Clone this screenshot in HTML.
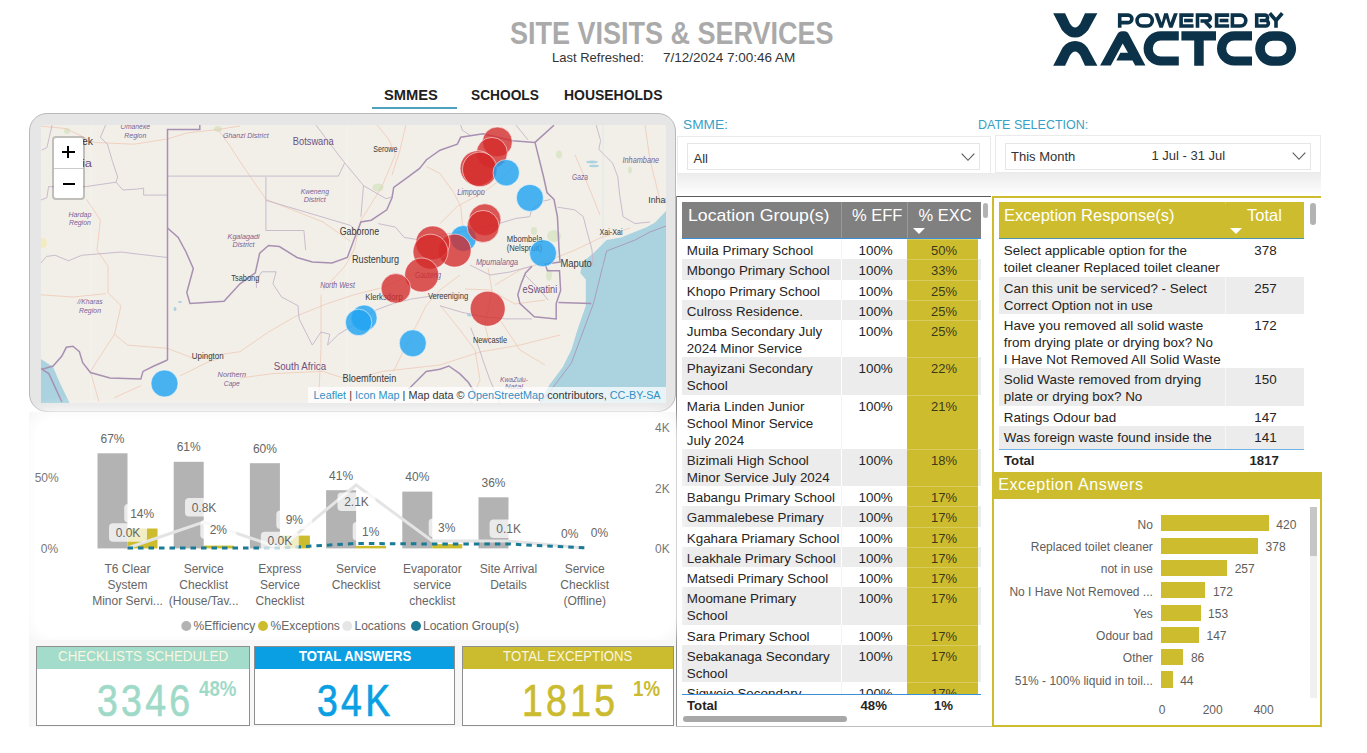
<!DOCTYPE html>
<html><head><meta charset="utf-8">
<style>
*{margin:0;padding:0;box-sizing:border-box}
html,body{width:1367px;height:753px;overflow:hidden;background:#fff}
body{position:relative;font-family:"Liberation Sans",sans-serif;color:#333}
.a{position:absolute;white-space:nowrap}
#title{left:509.5px;top:15.5px;font-size:31px;font-weight:bold;color:#aaaaaa;transform:scaleX(0.871);transform-origin:0 0}
.lr{font-size:13px;color:#333;transform:scaleX(1.04);transform-origin:0 0}
.tab{font-size:15px;font-weight:bold;color:#1f1f1f;top:86px;transform-origin:0 0}
/* slicers */
.slbl{font-size:13.7px;color:#3a9fc6}
.spanel{background:#fff;border:1px solid #ebebeb}
.sdd{border:1px solid #e6e6e6;background:#fff}
.chev{position:absolute;width:9px;height:9px;border-right:1px solid #555;border-bottom:1px solid #555;transform:rotate(45deg)}
/* tables */
.tbl{position:absolute}
.row{position:absolute;left:0;font-size:13.2px;color:#252423;line-height:17px}
.row .c{position:absolute;top:2px}
.kpi{position:absolute;background:#fff;border:1px solid #8a8a8a}
.kh{position:absolute;left:0;right:0;top:0;height:22px;text-align:center;font-size:13.5px;line-height:22px;letter-spacing:0.3px}
</style><style>
.t1{position:absolute;font-size:13.4px;color:#252423;white-space:nowrap;line-height:17px}
.t1e{position:absolute;font-size:13px;color:#3a3a1a;white-space:nowrap;line-height:17px}
.t1b{font-size:13.2px;font-weight:bold;color:#252423}
.ealab{font-size:12px;color:#605e5c;white-space:nowrap}
.kt{text-align:center;font-size:14px;letter-spacing:0px}
.kn{font-size:45px;letter-spacing:4px;line-height:45px;transform:scaleX(0.83);transform-origin:0 0;-webkit-text-stroke:0.7px currentColor}
.kp{font-size:21.5px;font-weight:bold;line-height:22px;transform:scaleX(0.87);transform-origin:0 0}
</style></head>
<body>
<div id="title" class="a">SITE VISITS &amp; SERVICES</div>
<div class="a lr" style="left:552px;top:50px;transform:none">Last Refreshed:</div>
<div class="a lr" style="left:663px;top:50px">7/12/2024 7:00:46 AM</div>

<div class="a tab" style="left:384px;transform:scaleX(0.98)">SMMES</div>
<div class="a tab" style="left:470.5px;transform:scaleX(0.915)">SCHOOLS</div>
<div class="a tab" style="left:563.5px;transform:scaleX(0.93)">HOUSEHOLDS</div>
<div class="a" style="left:372px;top:107px;width:85px;height:2px;background:#4ea2bd"></div>

<!-- logo -->
<svg class="a" style="left:0;top:0" width="1367" height="80" viewBox="0 0 1367 80">
<g fill="#0b3248">
<path d="M1053.2,13.2 L1065.1,13.2 L1069.9,23.5 Q1075.1,31.5 1080.3,23.5 L1085,13.2 L1097.4,13.2 L1088.2,29.9 Q1082,37.6 1075.1,37.6 Q1068,37.6 1061.9,29.9 Z"/>
<path d="M1053.2,65.7 L1062.7,47.4 Q1068,41.1 1075.1,41.1 Q1082,41.1 1087.4,47.4 L1097.4,65.7 L1085,65.7 L1080.3,55.4 Q1075.1,47.5 1069.9,55.4 L1065.1,65.7 Z"/>
<path d="M1100.1,65.6 L1117.1,34.4 Q1119,31.2 1122,31.2 L1124.5,31.2 Q1127.3,31.2 1129,34.4 L1145.4,65.6 L1135.2,65.6 L1132.5,60.4 L1116.3,60.4 L1120.3,52.7 L1128,52.7 L1122.7,43.4 L1110.8,65.6 Z"/>
<path d="M1160.8,31.2 L1178.8,31.2 L1178.8,40.5 L1160.8,40.5 A8,8 0 0 0 1160.8,56.5 L1178.8,56.5 L1178.8,65.6 L1160.8,65.6 A17.2,17.2 0 0 1 1160.8,31.2 Z"/>
<path d="M1181.4,31.3 L1216,31.3 L1216,40.6 L1203.7,40.6 L1203.7,65.7 L1194.2,65.7 L1194.2,40.6 L1181.4,40.6 Z"/>
<path d="M1234.2,31.2 L1252,31.2 L1252,40.5 L1234.2,40.5 A8,8 0 0 0 1234.2,56.5 L1252,56.5 L1252,65.6 L1234.2,65.6 A17.2,17.2 0 0 1 1234.2,31.2 Z"/>
<path fill-rule="evenodd" d="M1272.4,31.3 L1278.9,31.3 A17.2,17.2 0 0 1 1278.9,65.7 L1272.4,65.7 A17.2,17.2 0 0 1 1272.4,31.3 Z M1272.8,40.7 A7.95,7.95 0 0 0 1272.8,56.6 L1278.7,56.6 A7.95,7.95 0 0 0 1278.7,40.7 Z"/>
<g fill="none" stroke="#0b3248" stroke-width="3.6" stroke-linejoin="miter"><path d="M1119.7,27.75 V15.100000000000001 H1128.15 A3.75,3.75 0 0 1 1128.15,22.6 H1119.7"/><path d="M1142.425,15.100000000000001 H1146.875 A5.424999999999999,5.424999999999999 0 0 1 1146.875,25.95 H1142.425 A5.424999999999999,5.424999999999999 0 0 1 1142.425,15.100000000000001 Z"/><path fill="#0b3248" stroke="none" d="M1154.3,13.3 L1158.2,13.3 L1161.7,22.55 L1164.1499999999999,13.3 L1167.95,13.3 L1170.3999999999999,22.55 L1173.8999999999999,13.3 L1177.8,13.3 L1172.6,27.75 L1169.2,27.75 L1166.05,17.9 L1162.8999999999999,27.75 L1159.5,27.75 Z"/><path d="M1193.6,15.100000000000001 H1181.1 V25.95 H1193.6"/><path d="M1184.1,20.525 H1192.8"/><path d="M1197.5,27.75 V15.100000000000001 H1207.3875 A2.912499999999998,2.912499999999998 0 0 1 1207.3875,20.924999999999997 H1200.5"/><path d="M1205.1,21.525 L1211.1,27.75"/><path d="M1229.2,15.100000000000001 H1216.6 V25.95 H1229.2"/><path d="M1219.6,20.525 H1228.4"/><path d="M1232.3999999999999,13.3 V27.75 M1232.3999999999999,15.100000000000001 H1240.375 A5.424999999999999,5.424999999999999 0 0 1 1240.375,25.95 H1232.3999999999999"/><path d="M1256.7,13.3 V27.75 M1256.7,15.100000000000001 H1264.8875 A2.7124999999999986,2.7124999999999986 0 0 1 1264.8875,20.525 H1259.7 M1259.7,20.525 H1265.6875 A2.7125000000000004,2.7125000000000004 0 0 1 1265.6875,25.95 H1256.7"/><path d="M1269.7,13.3 L1276.0,20.525 L1282.3,13.3 M1276.0,20.525 V27.75"/></g>
</g>
</svg>

<!-- map container -->
<div class="a" style="left:29px;top:113px;width:647px;height:299px;background:#e6e6e6;border:1px solid #b9b9b9;border-radius:18px"></div>
<svg class="a" style="left:41px;top:125px" width="625" height="278" viewBox="41 125 625 278">
<rect x="41" y="125" width="625" height="278" fill="#f2efe9"/>
<!-- faint tile seams -->
<path d="M91,125V403 M347,125V403 M603,125V403" stroke="#f6f4ef" stroke-width="1"/>
<!-- ocean -->
<path fill="#aad3df" d="M666,211 L655,222.4 L647,227 L621,237.4 L606.6,240 L593.4,253.2 L582.5,261.9 L580.3,272.9 L585.8,279.5 L585.8,305.8 L578.1,327.7 L571.5,349.6 L562.8,367.1 L549.6,384.7 L538.6,403 L666,403 Z"/>
<path fill="#aad3df" d="M40,358.3 L53.1,367 L59.7,382.4 L69.6,403 L40,403 Z"/>
<!-- green patches -->
<g fill="#d3e3bd" opacity="0.7">
<ellipse cx="67" cy="131" rx="3" ry="3"/><ellipse cx="218" cy="129" rx="4" ry="3"/><ellipse cx="378" cy="187.4" rx="5.5" ry="4"/>
<ellipse cx="559" cy="154.5" rx="3" ry="4"/><ellipse cx="630" cy="170" rx="2" ry="3.5"/><ellipse cx="554" cy="236" rx="7" ry="6"/><ellipse cx="534" cy="231" rx="3" ry="4"/>
<ellipse cx="549" cy="275" rx="3" ry="6"/>
<ellipse cx="43" cy="243" rx="4" ry="5" fill="#f3eab0"/>
</g>
<g fill="#aad3df">
<ellipse cx="592" cy="162" rx="6" ry="1.5"/><ellipse cx="594" cy="166" rx="5" ry="1.2"/><ellipse cx="180" cy="302" rx="2" ry="1"/><ellipse cx="175" cy="309" rx="1.5" ry="2"/><ellipse cx="470" cy="315" rx="3" ry="1.5"/>
</g>
<!-- roads -->
<g fill="none" stroke="#efc0a8" stroke-width="0.75" opacity="0.85">
<path d="M40,126 L66,128.6 L95,142.5 L134,144.2 L167.5,139 L187,133 L218,129.5 L240,126"/>
<path d="M218,129.5 L230,146 L240,161.5 L266,199.4 L323,222 L350,241"/>
<path d="M86.6,199.4 L100.4,220.2 L97,250 L108,266.3 L108,292.6 L121,305.7 L114.5,334.2 L90.4,371.4 L99,402"/>
<path d="M41,294.8 L73,297 L105.7,293.7"/>
<path d="M114.5,334.2 L127.6,345.1 L167.5,348.4 L193.3,358.3 L240,351.7 L268.5,332 L294.8,316.7 L327.6,303.5 L353.9,294.8 L380.2,288.2 L400,280 L420,270 L445,258"/>
<path d="M140.8,385.7 L114.5,397.7"/>
<path d="M180.2,375.8 L206.5,362.7 L219.6,358.3"/>
<path d="M240,378 L273,373.6 L323,371.4 L349.5,380.2 L382.4,371.4 L440,365 L480,352 L520,345 L560,335"/>
<path d="M377.3,125.2 L388.5,139 L395.4,154.5 L381.6,187.4 L360.9,220.2 L354,250 L345,266 L323,290"/>
<path d="M405.8,125.2 L400,150 L392,175"/>
<path d="M426.5,166.6 L440,173.5 L453.8,192.5 L460.7,206.3 L462.4,223.6 L470,240"/>
<path d="M440,223.6 L457.3,206.3 L483.2,192.5 L500,180 L515,165"/>
<path d="M321,294.8 L321,349.5 L318.9,393.3"/>
<path d="M393.3,371.4 L415.2,327.6 L426.2,305.7 L440,290 L460,275"/>
<path d="M440,305 L460,330 L475,350 L480,380 L470,403"/>
<path d="M465,289 L490,290 L515,304 L545,300"/>
<path d="M488,268 L492,290 L485,325 L490,345"/>
<path d="M500,320 L520,350 L545,365"/>
<path d="M495,285 L520,270 L545,262 L575,250 L600,238 L630,228"/>
<path d="M645,125 L650,160 L660,200"/>
<path d="M575,155 L590,190 L600,215"/>
</g>
<!-- district/province borders (light) -->
<g fill="none" stroke="#c4b5c8" stroke-width="0.9">
<path d="M167.5,176.1 L338.4,176.1 L344.5,163.2"/>
<path d="M316,125.2 L343.6,161.5 L363.5,185.6 L385.9,198.6 L393,197"/>
<path d="M265.9,177 L265.9,230.5 L303.9,230.5 L305.6,250"/>
<path d="M265.9,200.3 L350.5,225.4 L357,232"/>
<path d="M363.5,185.6 L360.9,216.7"/>
<path d="M105.6,125.2 L100.4,137.3 L107.4,144.2 L112.5,161.5 L117.7,177 L116,182.2 L86.6,186.5 L70,188 L48.6,186.5 L46.9,197.7 L41,200"/>
<path d="M116,182.2 L122.9,190 L136.7,189.1 L143.6,188.2 L143.6,195.1 L167.5,195.1"/>
<path d="M52.1,125.2 L46.9,147.6 L41.7,150.2"/>
<path d="M40,264 L46.6,256.4 L55.3,255.3 L68.5,260.8 L81.6,255.3 L121,252 L138.6,254.2 L167.5,257.5"/>
<path d="M256.4,288.2 L256.4,280 L261.9,271.8 L276.1,271.8 L272.9,283.8 L281.6,297 L298,305.7 L299.1,318.9 L305.7,332 L312.3,345.1 L321,332 L329.8,334.2 L327.6,345.1 L338.6,334.2 L349.5,327.6 L362.7,318.9 L375.8,310.1 L393.3,303.5 L410.9,299.1 L440,294.8 L455,294"/>
<path d="M378.2,223.6 L395.4,227.1 L404.1,237.4 L420,240 L440,235 L460,232 L498.7,223.6 L516,218.4 L529.8,216.7 L531.5,209.8 L543.6,201.1 L550.5,199.4"/>
<path d="M460.7,125.2 L462.4,130.4 L470,135"/>
<path d="M516,125.2 L528,139.9"/>
<path d="M557.4,207.2 L574.7,209.8 L583.3,216.7 L586.8,230.5 L592,250 L593,265"/>
<path d="M596.2,125.2 L600.6,140.7 L598.8,149.4 L612.7,163.2 L617.8,177 L619.6,194.2 L623,216.7 L635.1,223.6 L650,222"/>
<path d="M440,305.8 L461.9,312.3 L483.8,316.7 L505.8,318.9 L532,318.9"/>
<path d="M470.7,327.7 L479.5,349.6 L483.8,362.8 L490,380 L500,403"/>
<path d="M470,265 L490,275 L510,272 L532,266"/>
<path d="M525,275 L540,290 L548,300"/>
</g>
<!-- country borders -->
<g fill="none" stroke="#a890b2" stroke-width="1.5">
<path d="M167.5,360 L167.5,129.5 L199.8,129.5 L199.8,125"/>
<path d="M167.5,360 L153.9,366 L143,371.4 L140.8,379.1 L110,378 L90.4,372.5 L82.7,362.7 L79.4,351.7 L72.9,346.2 L66.3,347.3 L61.9,356.1 L53.1,366 L42.2,369.2"/>
<path d="M40,368 L48.8,373.6 L61.9,402"/>
<path d="M167.5,228 L178.2,237.4 L186,252 L193.3,268.5 L186.8,292.6 L190,303.5 L224,301.3 L240,283.8 L255.3,272.9 L259.7,253.1 L268.5,245.5 L279.4,246.6 L297,257.5 L312.3,261.9 L332,263 L347.3,257.5 L353.9,240 L360.9,221.9 L371.3,220.2 L386.8,209.8 L392,197.7 L393.7,187.4 L405.8,178.7 L419.6,168.4 L426.5,159.7 L440,150.2 L457.3,144.2 L460.7,137.3 L483.2,133.8 L512.5,140.7 L535,142.4 L554,125.2"/>
<path d="M535,142.4 L543.6,177 L547,192.5 L554,199.4 L557.4,216.7 L559.1,250 L560,262 L545.2,264.1 L547.4,270.7 L559.5,270.7 L560.6,290.4 L556.2,303.6 L556.2,318.9 L534.3,316.7 L520,303.6 L517.8,294.8 L521.1,283.8 L525.5,272.9 L532,266.3"/>
<path d="M558.4,302.5 L591.3,303.6"/>
<path d="M440,369.3 L448.8,366 L459.7,373.7 L468.5,382.5 L475.1,393.4"/>
<path d="M408.7,389 L426.2,371.4 L440,369.3"/>
</g>
<path d="M666,226 L650,232 L635.1,240 L606.6,251 L593.4,303.6 L571.5,362.8 L551.8,389 L540,403" fill="none" stroke="#a99cbb" stroke-width="1"/>
<path d="M603,125 L603,403" stroke="#b4d6e0" stroke-width="0.6" opacity="0.5"/>
<!-- labels -->
<g font-family="Liberation Sans">
<text x="82.0" y="145.0" font-size="10.5" fill="#3a3a3a" textLength="11.0" lengthAdjust="spacingAndGlyphs">ek</text>
<text x="82.0" y="166.9" font-size="10.5" fill="#6f5080" textLength="10.0" lengthAdjust="spacingAndGlyphs">ia</text>
<text x="373.2" y="151.6" font-size="9" fill="#3a3a3a" textLength="24.2" lengthAdjust="spacingAndGlyphs">Serowe</text>
<text x="339.7" y="235.0" font-size="11" fill="#3a3a3a" textLength="39.5" lengthAdjust="spacingAndGlyphs">Gaborone</text>
<text x="352.0" y="262.7" font-size="11" fill="#3a3a3a" textLength="47.2" lengthAdjust="spacingAndGlyphs">Rustenburg</text>
<text x="231.3" y="280.7" font-size="9.5" fill="#3a3a3a" textLength="28.0" lengthAdjust="spacingAndGlyphs">Tsabong</text>
<text x="365.2" y="300.0" font-size="9.5" fill="#3a3a3a" textLength="37.3" lengthAdjust="spacingAndGlyphs">Klerksdorp</text>
<text x="427.9" y="298.9" font-size="9.5" fill="#3a3a3a" textLength="40.3" lengthAdjust="spacingAndGlyphs">Vereeniging</text>
<text x="191.8" y="358.6" font-size="9.5" fill="#3a3a3a" textLength="31.8" lengthAdjust="spacingAndGlyphs">Upington</text>
<text x="342.6" y="381.7" font-size="11" fill="#3a3a3a" textLength="53.7" lengthAdjust="spacingAndGlyphs">Bloemfontein</text>
<text x="472.9" y="343.4" font-size="9.5" fill="#3a3a3a" textLength="34.2" lengthAdjust="spacingAndGlyphs">Newcastle</text>
<text x="506.8" y="241.8" font-size="9.5" fill="#3a3a3a" textLength="35.6" lengthAdjust="spacingAndGlyphs">Mbombela</text>
<text x="506.8" y="250.6" font-size="9.5" fill="#3a3a3a" textLength="35.2" lengthAdjust="spacingAndGlyphs">(Nelspruit)</text>
<text x="560.4" y="266.6" font-size="11" fill="#3a3a3a" textLength="31.4" lengthAdjust="spacingAndGlyphs">Maputo</text>
<text x="599.4" y="234.5" font-size="9.5" fill="#3a3a3a" textLength="23.1" lengthAdjust="spacingAndGlyphs">Xai-Xai</text>
<text x="648.2" y="203.4" font-size="9.5" fill="#3a3a3a" textLength="20.0" lengthAdjust="spacingAndGlyphs">Inhar</text>
<text x="292.8" y="145.0" font-size="11" fill="#6f5080" textLength="40.8" lengthAdjust="spacingAndGlyphs">Botswana</text>
<text x="273.7" y="369.6" font-size="11" fill="#6f5080" textLength="52.4" lengthAdjust="spacingAndGlyphs">South Africa</text>
<text x="522.4" y="293.4" font-size="11" fill="#6f5080" textLength="34.8" lengthAdjust="spacingAndGlyphs">eSwatini</text>
<text x="120.6" y="129.2" font-size="8" fill="#7d6190" font-style="italic" textLength="29.5" lengthAdjust="spacingAndGlyphs">Omaheke</text>
<text x="124.3" y="137.9" font-size="8" fill="#7d6190" font-style="italic" textLength="22.0" lengthAdjust="spacingAndGlyphs">Region</text>
<text x="223.0" y="137.6" font-size="8" fill="#7d6190" font-style="italic" textLength="45.6" lengthAdjust="spacingAndGlyphs">Ghanzi District</text>
<text x="300.7" y="193.7" font-size="8" fill="#7d6190" font-style="italic" textLength="28.2" lengthAdjust="spacingAndGlyphs">Kweneng</text>
<text x="303.8" y="202.2" font-size="8" fill="#7d6190" font-style="italic" textLength="22.0" lengthAdjust="spacingAndGlyphs">District</text>
<text x="227.6" y="238.5" font-size="8" fill="#7d6190" font-style="italic" textLength="31.9" lengthAdjust="spacingAndGlyphs">Kgalagadi</text>
<text x="232.5" y="247.0" font-size="8" fill="#7d6190" font-style="italic" textLength="22.0" lengthAdjust="spacingAndGlyphs">District</text>
<text x="68.4" y="217.4" font-size="8" fill="#7d6190" font-style="italic" textLength="23.0" lengthAdjust="spacingAndGlyphs">Hardap</text>
<text x="68.9" y="225.3" font-size="8" fill="#7d6190" font-style="italic" textLength="22.0" lengthAdjust="spacingAndGlyphs">Region</text>
<text x="77.5" y="304.0" font-size="8" fill="#7d6190" font-style="italic" textLength="25.0" lengthAdjust="spacingAndGlyphs">//Kharas</text>
<text x="79.0" y="312.5" font-size="8" fill="#7d6190" font-style="italic" textLength="22.0" lengthAdjust="spacingAndGlyphs">Region</text>
<text x="217.6" y="377.3" font-size="8" fill="#7d6190" font-style="italic" textLength="28.5" lengthAdjust="spacingAndGlyphs">Northern</text>
<text x="223.8" y="385.6" font-size="8" fill="#7d6190" font-style="italic" textLength="16.0" lengthAdjust="spacingAndGlyphs">Cape</text>
<text x="320.2" y="287.7" font-size="8.5" fill="#7d6190" font-style="italic" textLength="34.7" lengthAdjust="spacingAndGlyphs">North West</text>
<text x="457.2" y="194.6" font-size="8.5" fill="#7d6190" font-style="italic" textLength="27.7" lengthAdjust="spacingAndGlyphs">Limpopo</text>
<text x="572.0" y="179.7" font-size="8.5" fill="#7d6190" font-style="italic" textLength="16.0" lengthAdjust="spacingAndGlyphs">Gaza</text>
<text x="622.5" y="162.8" font-size="8.5" fill="#7d6190" font-style="italic" textLength="36.6" lengthAdjust="spacingAndGlyphs">Inhambane</text>
<text x="475.9" y="265.3" font-size="8.5" fill="#7d6190" font-style="italic" textLength="42.3" lengthAdjust="spacingAndGlyphs">Mpumalanga</text>
<text x="415.0" y="278.0" font-size="8.5" fill="#7d6190" font-style="italic" textLength="26.0" lengthAdjust="spacingAndGlyphs">Gauteng</text>
<text x="500.0" y="381.5" font-size="8" fill="#7d6190" font-style="italic" textLength="28.0" lengthAdjust="spacingAndGlyphs">KwaZulu-</text>
<text x="505.0" y="389.3" font-size="8" fill="#7d6190" font-style="italic" textLength="18.0" lengthAdjust="spacingAndGlyphs">Natal</text>
</g>
<!-- circles -->
<g stroke="#fff" stroke-opacity="0.55" stroke-width="1">
<g fill="#d42a2a" fill-opacity="0.78">
<circle cx="497.4" cy="141.9" r="14.9"/>
<circle cx="491.9" cy="152.9" r="15.5"/>
<circle cx="477.7" cy="168.3" r="17.6"/>
<circle cx="479.8" cy="169.4" r="17.3"/>
</g>
<circle cx="506.2" cy="172.7" r="13.2" fill="#22a3f2" fill-opacity="0.82"/>
<circle cx="529.9" cy="197.9" r="13.5" fill="#22a3f2" fill-opacity="0.82"/>
<circle cx="463.4" cy="238.5" r="13" fill="#22a3f2" fill-opacity="0.82"/>
<circle cx="543" cy="253.2" r="13.5" fill="#22a3f2" fill-opacity="0.82"/>
<circle cx="364.1" cy="318" r="13" fill="#22a3f2" fill-opacity="0.82"/>
<circle cx="358.6" cy="322.4" r="13.2" fill="#22a3f2" fill-opacity="0.82"/>
<circle cx="412.8" cy="343.3" r="13.5" fill="#22a3f2" fill-opacity="0.82"/>
<circle cx="164.5" cy="383.5" r="13.5" fill="#22a3f2" fill-opacity="0.82"/>
<g fill="#d42a2a" fill-opacity="0.78">
<circle cx="484.9" cy="219.8" r="16"/>
<circle cx="483.1" cy="226.4" r="16"/>
<circle cx="454.6" cy="250.6" r="16.5"/>
<circle cx="432.7" cy="242.9" r="17"/>
<circle cx="430.5" cy="251.7" r="17.5"/>
<circle cx="421.7" cy="275" r="17"/>
<circle cx="395.9" cy="288.4" r="14.8"/>
<circle cx="487.7" cy="308.7" r="17.5"/>
</g>
</g>
<!-- attribution -->
<rect x="308" y="387" width="358" height="16" fill="#fff" fill-opacity="0.72"/>
<text x="313.6" y="398.5" font-family="Liberation Sans" font-size="10.5" fill="#333" textLength="347" lengthAdjust="spacingAndGlyphs"><tspan fill="#2e8fc6">Leaflet</tspan> | <tspan fill="#2e8fc6">Icon Map</tspan> | Map data © <tspan fill="#2e8fc6">OpenStreetMap</tspan> contributors, <tspan fill="#2e8fc6">CC-BY-SA</tspan></text>
</svg>
<!-- zoom control -->
<div class="a" style="left:52px;top:136px;width:33px;height:64px;background:#fff;border:2px solid rgba(0,0,0,0.2);border-radius:4px;background-clip:padding-box"></div>
<div class="a" style="left:54px;top:168px;width:29px;height:1px;background:#ccc"></div>
<div class="a" style="left:62px;top:151px;width:12.5px;height:2.2px;background:#000"></div>
<div class="a" style="left:67.1px;top:145.9px;width:2.2px;height:12.5px;background:#000"></div>
<div class="a" style="left:63px;top:182.6px;width:12px;height:2.2px;background:#000"></div>

<div class="a slbl" style="left:683px;top:116.5px">SMME:</div>
<div class="a slbl" style="left:978px;top:116.5px;transform:scaleX(0.914);transform-origin:0 0">DATE SELECTION:</div>
<div class="a" style="left:677px;top:173px;width:644px;height:23px;background:linear-gradient(#ececec,#fbfbfb 80%,#fff)"></div>
<div class="a spanel" style="left:676.5px;top:135.5px;width:314px;height:38.5px"></div>
<div class="a spanel" style="left:994.5px;top:135px;width:326.5px;height:38px"></div>
<div class="a sdd" style="left:687px;top:143px;width:292.5px;height:27px"></div>
<div class="a sdd" style="left:1005px;top:142.5px;width:306px;height:27px"></div>
<div class="a" style="left:693.5px;top:150.5px;font-size:13px;color:#333">All</div>
<div class="a" style="left:1011px;top:149px;font-size:13px;color:#333">This Month</div>
<div class="a" style="left:1151.5px;top:147.5px;font-size:13px;color:#333">1 Jul - 31 Jul</div>
<svg class="a" style="left:960.5px;top:153px" width="14" height="9" viewBox="0 0 14 9"><path d="M0.7,0.7 L7,7.3 L13.3,0.7" fill="none" stroke="#555" stroke-width="1.1"/></svg>
<svg class="a" style="left:1291.5px;top:152px" width="14" height="9" viewBox="0 0 14 9"><path d="M0.7,0.7 L7,7.3 L13.3,0.7" fill="none" stroke="#555" stroke-width="1.1"/></svg>
<div class="a" style="left:677px;top:196px;width:314px;height:1px;background:#5a5a5a"></div>
<div class="a" style="left:992px;top:196px;width:329px;height:1.5px;background:#cdbd2e"></div>
<div class="a" style="left:676px;top:196px;width:1px;height:531px;background:#8c8c8c"></div>
<div class="a" style="left:676px;top:726px;width:317px;height:1px;background:#bdbdbd"></div>
<div class="a" style="left:682px;top:202.4px;width:298.79999999999995px;height:36.3px;background:#808080"></div>
<div class="a" style="left:841px;top:202.4px;width:1px;height:36.3px;background:#999"></div>
<div class="a" style="left:907px;top:202.4px;width:1px;height:36.3px;background:#999"></div>
<div class="a" style="left:687.5px;top:206px;font-size:16.5px;color:#fff;transform:scaleX(1.04);transform-origin:0 0;font-size:17px;top:205.5px">Location Group(s)</div>
<div class="a" style="left:852px;top:206px;font-size:16.5px;color:#fff">% EFF</div>
<div class="a" style="left:918.5px;top:206px;font-size:16.5px;color:#fff">% EXC</div>
<svg class="a" style="left:913px;top:228px" width="12" height="6"><path d="M0,0 L12,0 L6,6Z" fill="#fff"/></svg>
<div class="a" style="left:982.5px;top:203px;width:5.5px;height:15px;background:#b3b3b3;border-radius:3px"></div>
<div class="a" style="left:682px;top:238px;width:299px;height:1px;background:#3b8fd9"></div>
<div class="a" style="left:682px;top:239px;width:299px;height:455px;overflow:hidden">
<div style="position:absolute;left:0;top:0.00px;width:298.6px;height:20.25px;background:#fff"></div>
<div style="position:absolute;left:159px;top:0.00px;width:1px;height:20.25px;background:#f3f3f3"></div>
<div style="position:absolute;left:225px;top:0.00px;width:71px;height:20.25px;background:#cdbd2e;border-top:1px solid #d9cc5e"></div>
<div class="t1" style="left:4.8px;top:3.00px">Muila Primary School</div>
<div class="t1" style="left:176.5px;top:3.00px">100%</div>
<div class="t1e" style="left:249px;top:3.00px">50%</div>
<div style="position:absolute;left:0;top:20.25px;width:298.6px;height:20.25px;background:#ececec"></div>
<div style="position:absolute;left:159px;top:20.25px;width:1px;height:20.25px;background:#fff"></div>
<div style="position:absolute;left:225px;top:20.25px;width:71px;height:20.25px;background:#cdbd2e;border-top:1px solid #d9cc5e"></div>
<div class="t1" style="left:4.8px;top:23.25px">Mbongo Primary School</div>
<div class="t1" style="left:176.5px;top:23.25px">100%</div>
<div class="t1e" style="left:249px;top:23.25px">33%</div>
<div style="position:absolute;left:0;top:40.50px;width:298.6px;height:20.25px;background:#fff"></div>
<div style="position:absolute;left:159px;top:40.50px;width:1px;height:20.25px;background:#f3f3f3"></div>
<div style="position:absolute;left:225px;top:40.50px;width:71px;height:20.25px;background:#cdbd2e;border-top:1px solid #d9cc5e"></div>
<div class="t1" style="left:4.8px;top:43.50px">Khopo Primary School</div>
<div class="t1" style="left:176.5px;top:43.50px">100%</div>
<div class="t1e" style="left:249px;top:43.50px">25%</div>
<div style="position:absolute;left:0;top:60.75px;width:298.6px;height:20.25px;background:#ececec"></div>
<div style="position:absolute;left:159px;top:60.75px;width:1px;height:20.25px;background:#fff"></div>
<div style="position:absolute;left:225px;top:60.75px;width:71px;height:20.25px;background:#cdbd2e;border-top:1px solid #d9cc5e"></div>
<div class="t1" style="left:4.8px;top:63.75px">Culross Residence.</div>
<div class="t1" style="left:176.5px;top:63.75px">100%</div>
<div class="t1e" style="left:249px;top:63.75px">25%</div>
<div style="position:absolute;left:0;top:81.00px;width:298.6px;height:37.25px;background:#fff"></div>
<div style="position:absolute;left:159px;top:81.00px;width:1px;height:37.25px;background:#f3f3f3"></div>
<div style="position:absolute;left:225px;top:81.00px;width:71px;height:37.25px;background:#cdbd2e;border-top:1px solid #d9cc5e"></div>
<div class="t1" style="left:4.8px;top:84.00px">Jumba Secondary July</div>
<div class="t1" style="left:4.8px;top:101.00px">2024 Minor Service</div>
<div class="t1" style="left:176.5px;top:84.00px">100%</div>
<div class="t1e" style="left:249px;top:84.00px">25%</div>
<div style="position:absolute;left:0;top:118.25px;width:298.6px;height:37.25px;background:#ececec"></div>
<div style="position:absolute;left:159px;top:118.25px;width:1px;height:37.25px;background:#fff"></div>
<div style="position:absolute;left:225px;top:118.25px;width:71px;height:37.25px;background:#cdbd2e;border-top:1px solid #d9cc5e"></div>
<div class="t1" style="left:4.8px;top:121.25px">Phayizani Secondary</div>
<div class="t1" style="left:4.8px;top:138.25px">School</div>
<div class="t1" style="left:176.5px;top:121.25px">100%</div>
<div class="t1e" style="left:249px;top:121.25px">22%</div>
<div style="position:absolute;left:0;top:155.50px;width:298.6px;height:54.25px;background:#fff"></div>
<div style="position:absolute;left:159px;top:155.50px;width:1px;height:54.25px;background:#f3f3f3"></div>
<div style="position:absolute;left:225px;top:155.50px;width:71px;height:54.25px;background:#cdbd2e;border-top:1px solid #d9cc5e"></div>
<div class="t1" style="left:4.8px;top:158.50px">Maria Linden Junior</div>
<div class="t1" style="left:4.8px;top:175.50px">School Minor Service</div>
<div class="t1" style="left:4.8px;top:192.50px">July 2024</div>
<div class="t1" style="left:176.5px;top:158.50px">100%</div>
<div class="t1e" style="left:249px;top:158.50px">21%</div>
<div style="position:absolute;left:0;top:209.75px;width:298.6px;height:37.25px;background:#ececec"></div>
<div style="position:absolute;left:159px;top:209.75px;width:1px;height:37.25px;background:#fff"></div>
<div style="position:absolute;left:225px;top:209.75px;width:71px;height:37.25px;background:#cdbd2e;border-top:1px solid #d9cc5e"></div>
<div class="t1" style="left:4.8px;top:212.75px">Bizimali High School</div>
<div class="t1" style="left:4.8px;top:229.75px">Minor Service July 2024</div>
<div class="t1" style="left:176.5px;top:212.75px">100%</div>
<div class="t1e" style="left:249px;top:212.75px">18%</div>
<div style="position:absolute;left:0;top:247.00px;width:298.6px;height:20.25px;background:#fff"></div>
<div style="position:absolute;left:159px;top:247.00px;width:1px;height:20.25px;background:#f3f3f3"></div>
<div style="position:absolute;left:225px;top:247.00px;width:71px;height:20.25px;background:#cdbd2e;border-top:1px solid #d9cc5e"></div>
<div class="t1" style="left:4.8px;top:250.00px">Babangu Primary School</div>
<div class="t1" style="left:176.5px;top:250.00px">100%</div>
<div class="t1e" style="left:249px;top:250.00px">17%</div>
<div style="position:absolute;left:0;top:267.25px;width:298.6px;height:20.25px;background:#ececec"></div>
<div style="position:absolute;left:159px;top:267.25px;width:1px;height:20.25px;background:#fff"></div>
<div style="position:absolute;left:225px;top:267.25px;width:71px;height:20.25px;background:#cdbd2e;border-top:1px solid #d9cc5e"></div>
<div class="t1" style="left:4.8px;top:270.25px">Gammalebese Primary</div>
<div class="t1" style="left:176.5px;top:270.25px">100%</div>
<div class="t1e" style="left:249px;top:270.25px">17%</div>
<div style="position:absolute;left:0;top:287.50px;width:298.6px;height:20.25px;background:#fff"></div>
<div style="position:absolute;left:159px;top:287.50px;width:1px;height:20.25px;background:#f3f3f3"></div>
<div style="position:absolute;left:225px;top:287.50px;width:71px;height:20.25px;background:#cdbd2e;border-top:1px solid #d9cc5e"></div>
<div class="t1" style="left:4.8px;top:290.50px">Kgahara Priamary School</div>
<div class="t1" style="left:176.5px;top:290.50px">100%</div>
<div class="t1e" style="left:249px;top:290.50px">17%</div>
<div style="position:absolute;left:0;top:307.75px;width:298.6px;height:20.25px;background:#ececec"></div>
<div style="position:absolute;left:159px;top:307.75px;width:1px;height:20.25px;background:#fff"></div>
<div style="position:absolute;left:225px;top:307.75px;width:71px;height:20.25px;background:#cdbd2e;border-top:1px solid #d9cc5e"></div>
<div class="t1" style="left:4.8px;top:310.75px">Leakhale Primary School</div>
<div class="t1" style="left:176.5px;top:310.75px">100%</div>
<div class="t1e" style="left:249px;top:310.75px">17%</div>
<div style="position:absolute;left:0;top:328.00px;width:298.6px;height:20.25px;background:#fff"></div>
<div style="position:absolute;left:159px;top:328.00px;width:1px;height:20.25px;background:#f3f3f3"></div>
<div style="position:absolute;left:225px;top:328.00px;width:71px;height:20.25px;background:#cdbd2e;border-top:1px solid #d9cc5e"></div>
<div class="t1" style="left:4.8px;top:331.00px">Matsedi Primary School</div>
<div class="t1" style="left:176.5px;top:331.00px">100%</div>
<div class="t1e" style="left:249px;top:331.00px">17%</div>
<div style="position:absolute;left:0;top:348.25px;width:298.6px;height:37.25px;background:#ececec"></div>
<div style="position:absolute;left:159px;top:348.25px;width:1px;height:37.25px;background:#fff"></div>
<div style="position:absolute;left:225px;top:348.25px;width:71px;height:37.25px;background:#cdbd2e;border-top:1px solid #d9cc5e"></div>
<div class="t1" style="left:4.8px;top:351.25px">Moomane Primary</div>
<div class="t1" style="left:4.8px;top:368.25px">School</div>
<div class="t1" style="left:176.5px;top:351.25px">100%</div>
<div class="t1e" style="left:249px;top:351.25px">17%</div>
<div style="position:absolute;left:0;top:385.50px;width:298.6px;height:20.25px;background:#fff"></div>
<div style="position:absolute;left:159px;top:385.50px;width:1px;height:20.25px;background:#f3f3f3"></div>
<div style="position:absolute;left:225px;top:385.50px;width:71px;height:20.25px;background:#cdbd2e;border-top:1px solid #d9cc5e"></div>
<div class="t1" style="left:4.8px;top:388.50px">Sara Primary School</div>
<div class="t1" style="left:176.5px;top:388.50px">100%</div>
<div class="t1e" style="left:249px;top:388.50px">17%</div>
<div style="position:absolute;left:0;top:405.75px;width:298.6px;height:37.25px;background:#ececec"></div>
<div style="position:absolute;left:159px;top:405.75px;width:1px;height:37.25px;background:#fff"></div>
<div style="position:absolute;left:225px;top:405.75px;width:71px;height:37.25px;background:#cdbd2e;border-top:1px solid #d9cc5e"></div>
<div class="t1" style="left:4.8px;top:408.75px">Sebakanaga Secondary</div>
<div class="t1" style="left:4.8px;top:425.75px">School</div>
<div class="t1" style="left:176.5px;top:408.75px">100%</div>
<div class="t1e" style="left:249px;top:408.75px">17%</div>
<div style="position:absolute;left:0;top:443.00px;width:298.6px;height:37.25px;background:#fff"></div>
<div style="position:absolute;left:159px;top:443.00px;width:1px;height:37.25px;background:#f3f3f3"></div>
<div style="position:absolute;left:225px;top:443.00px;width:71px;height:37.25px;background:#cdbd2e;border-top:1px solid #d9cc5e"></div>
<div class="t1" style="left:4.8px;top:446.00px">Sigwejo Secondary</div>
<div class="t1" style="left:4.8px;top:463.00px">School</div>
<div class="t1" style="left:176.5px;top:446.00px">100%</div>
<div class="t1e" style="left:249px;top:446.00px">17%</div>
</div>
<div class="a" style="left:682px;top:694px;width:299px;height:1.2px;background:#3b8fd9"></div>
<div class="a t1b" style="left:687px;top:698px">Total</div>
<div class="a t1b" style="left:860.5px;top:698px">48%</div>
<div class="a t1b" style="left:934px;top:698px">1%</div>
<div class="a" style="left:683px;top:715.5px;width:164px;height:6.5px;background:#a8a8a8;border-radius:4px"></div>
<div class="a" style="left:992px;top:196px;width:1.5px;height:277px;background:#cdbd2e"></div>
<div class="a" style="left:999.3px;top:202.4px;width:304.7px;height:36px;background:#cdbd2e"></div>
<div class="a" style="left:1225px;top:202.4px;width:1px;height:2px;background:#d9cf6a"></div>
<div class="a" style="left:1004px;top:206px;font-size:16.5px;color:#fff">Exception Response(s)</div>
<div class="a" style="left:1247px;top:206px;font-size:16.5px;color:#fff">Total</div>
<svg class="a" style="left:1230px;top:228px" width="12" height="6"><path d="M0,0 L12,0 L6,6Z" fill="#fff"/></svg>
<div class="a" style="left:1310px;top:203px;width:6px;height:22px;background:#b3b3b3;border-radius:3px"></div>
<div class="a" style="left:999.3px;top:238px;width:304.7px;height:1px;background:#4a94a8"></div>
<div class="a" style="left:999.3px;top:238.5px;width:305px;height:210.8px;overflow:hidden">
<div style="position:absolute;left:0;top:0.00px;width:304.7px;height:38.40px;background:#fff"></div>
<div class="t1" style="left:4.5px;top:3.00px">Select applicable option for the</div>
<div class="t1" style="left:4.5px;top:20.00px">toilet cleaner Replaced toilet cleaner</div>
<div class="t1" style="left:255px;top:3.00px">378</div>
<div style="position:absolute;left:0;top:38.40px;width:304.7px;height:37.20px;background:#ececec"></div>
<div style="position:absolute;left:225.7px;top:38.40px;width:1px;height:37.20px;background:#f7f7f7"></div>
<div class="t1" style="left:4.5px;top:41.40px">Can this unit be serviced? - Select</div>
<div class="t1" style="left:4.5px;top:58.40px">Correct Option not in use</div>
<div class="t1" style="left:255px;top:41.40px">257</div>
<div style="position:absolute;left:0;top:75.60px;width:304.7px;height:54.20px;background:#fff"></div>
<div class="t1" style="left:4.5px;top:78.60px">Have you removed all solid waste</div>
<div class="t1" style="left:4.5px;top:95.60px">from drying plate or drying box? No</div>
<div class="t1" style="left:4.5px;top:112.60px">I Have Not Removed All Solid Waste</div>
<div class="t1" style="left:255px;top:78.60px">172</div>
<div style="position:absolute;left:0;top:129.80px;width:304.7px;height:37.90px;background:#ececec"></div>
<div style="position:absolute;left:225.7px;top:129.80px;width:1px;height:37.90px;background:#f7f7f7"></div>
<div class="t1" style="left:4.5px;top:132.80px">Solid Waste removed from drying</div>
<div class="t1" style="left:4.5px;top:149.80px">plate or drying box? No</div>
<div class="t1" style="left:255px;top:132.80px">150</div>
<div style="position:absolute;left:0;top:167.70px;width:304.7px;height:19.80px;background:#fff"></div>
<div class="t1" style="left:4.5px;top:170.70px">Ratings Odour bad</div>
<div class="t1" style="left:255px;top:170.70px">147</div>
<div style="position:absolute;left:0;top:187.50px;width:304.7px;height:23.80px;background:#ececec"></div>
<div style="position:absolute;left:225.7px;top:187.50px;width:1px;height:23.80px;background:#f7f7f7"></div>
<div class="t1" style="left:4.5px;top:190.50px">Was foreign waste found inside the</div>
<div class="t1" style="left:4.5px;top:207.50px">toilet?</div>
<div class="t1" style="left:255px;top:190.50px">141</div>
</div>
<div class="a" style="left:999.3px;top:449px;width:304.7px;height:1.2px;background:#6fb2e8"></div>
<div class="a t1b" style="left:1004px;top:452.5px">Total</div>
<div class="a t1b" style="left:1249.5px;top:452.5px">1817</div>
<div class="a" style="left:992px;top:472px;width:329.5px;height:254.5px;border:2px solid #cdbd2e;background:#fff"></div>
<div class="a" style="left:992px;top:472px;width:329.5px;height:26.7px;background:#cdbd2e"></div>
<div class="a" style="left:998.2px;top:476px;font-size:16px;color:#fff;letter-spacing:0.6px">Exception Answers</div>
<div class="a" style="left:1309.5px;top:506.7px;width:7.5px;height:191.8px;background:#f0f0f0"></div>
<div class="a" style="left:1309.5px;top:506.7px;width:7.5px;height:49.8px;background:#c6c6c6"></div>
<div class="a" style="left:1161.4px;top:515.30px;width:107.44px;height:16.2px;background:#cdbd2e"></div>
<div class="a ealab" style="right:214.20000000000005px;top:517.60px">No</div>
<div class="a ealab" style="left:1276.34px;top:517.60px">420</div>
<div class="a" style="left:1161.4px;top:537.60px;width:96.69px;height:16.2px;background:#cdbd2e"></div>
<div class="a ealab" style="right:214.20000000000005px;top:539.90px">Replaced toilet cleaner</div>
<div class="a ealab" style="left:1265.59px;top:539.90px">378</div>
<div class="a" style="left:1161.4px;top:559.90px;width:65.74px;height:16.2px;background:#cdbd2e"></div>
<div class="a ealab" style="right:214.20000000000005px;top:562.20px">not in use</div>
<div class="a ealab" style="left:1234.64px;top:562.20px">257</div>
<div class="a" style="left:1161.4px;top:582.20px;width:44.00px;height:16.2px;background:#cdbd2e"></div>
<div class="a ealab" style="right:214.20000000000005px;top:584.50px">No I Have Not Removed ...</div>
<div class="a ealab" style="left:1212.90px;top:584.50px">172</div>
<div class="a" style="left:1161.4px;top:604.50px;width:39.14px;height:16.2px;background:#cdbd2e"></div>
<div class="a ealab" style="right:214.20000000000005px;top:606.80px">Yes</div>
<div class="a ealab" style="left:1208.04px;top:606.80px">153</div>
<div class="a" style="left:1161.4px;top:626.80px;width:37.60px;height:16.2px;background:#cdbd2e"></div>
<div class="a ealab" style="right:214.20000000000005px;top:629.10px">Odour bad</div>
<div class="a ealab" style="left:1206.50px;top:629.10px">147</div>
<div class="a" style="left:1161.4px;top:649.10px;width:22.00px;height:16.2px;background:#cdbd2e"></div>
<div class="a ealab" style="right:214.20000000000005px;top:651.40px">Other</div>
<div class="a ealab" style="left:1190.90px;top:651.40px">86</div>
<div class="a" style="left:1161.4px;top:671.40px;width:11.26px;height:16.2px;background:#cdbd2e"></div>
<div class="a ealab" style="right:214.20000000000005px;top:673.70px">51% - 100% liquid in toil...</div>
<div class="a ealab" style="left:1180.16px;top:673.70px">44</div>
<div class="a ealab" style="left:1132px;width:60px;text-align:center;top:702.5px">0</div>
<div class="a ealab" style="left:1182.7px;width:60px;text-align:center;top:702.5px">200</div>
<div class="a ealab" style="left:1233.7px;width:60px;text-align:center;top:702.5px">400</div>
<div class="a" style="left:29px;top:412px;width:647px;height:228px;background:#f6f6f6"></div>
<div class="a" style="left:35px;top:418px;width:636px;height:218px;background:#fff;border-radius:18px;box-shadow:0 0 14px 8px #fff"></div>
<svg class="a" style="left:29px;top:412px" width="647" height="228" viewBox="29 412 647 228" font-family="Liberation Sans">
<rect x="97.5" y="453.3" width="30" height="95.1" fill="#b3b3b3"/>
<rect x="127.5" y="528.5" width="30" height="19.9" fill="#cdbd2e"/>
<rect x="173.7" y="461.8" width="30" height="86.6" fill="#b3b3b3"/>
<rect x="203.7" y="545.6" width="30" height="2.8" fill="#cdbd2e"/>
<rect x="249.9" y="463.2" width="30" height="85.2" fill="#b3b3b3"/>
<rect x="279.9" y="535.6" width="30" height="12.8" fill="#cdbd2e"/>
<rect x="326.1" y="490.2" width="30" height="58.2" fill="#b3b3b3"/>
<rect x="356.1" y="545.9" width="30" height="2.5" fill="#cdbd2e"/>
<rect x="402.3" y="491.6" width="30" height="56.8" fill="#b3b3b3"/>
<rect x="432.3" y="544.1" width="30" height="4.3" fill="#cdbd2e"/>
<rect x="478.5" y="497.3" width="30" height="51.1" fill="#b3b3b3"/>
<polyline fill="none" stroke="#e4e4e4" stroke-width="3" points="127.5,548 203.7,522 279.9,548 356.1,485 432.3,541 508.5,541 584.7,548"/>
<polyline fill="none" stroke="#1b7a96" stroke-width="3" stroke-dasharray="5.5 5" points="127.5,548 203.7,548 279.9,548 356.1,543.4 432.3,544 508.5,544 584.7,547.8"/>
<text x="112.5" y="442.8" font-size="12" fill="#666" text-anchor="middle">67%</text>
<text x="188.7" y="451.3" font-size="12" fill="#666" text-anchor="middle">61%</text>
<text x="264.9" y="452.7" font-size="12" fill="#666" text-anchor="middle">60%</text>
<text x="341.1" y="479.7" font-size="12" fill="#666" text-anchor="middle">41%</text>
<text x="417.3" y="481.1" font-size="12" fill="#666" text-anchor="middle">40%</text>
<text x="493.5" y="486.8" font-size="12" fill="#666" text-anchor="middle">36%</text>
<text x="569.7" y="537.9" font-size="12" fill="#666" text-anchor="middle">0%</text>
<rect x="124.2" y="504.0" width="36.0" height="18.5" rx="4" fill="#fff" fill-opacity="0.72"/>
<text x="142.2" y="517.5" font-size="12" fill="#666" text-anchor="middle">14%</text>
<rect x="200.3" y="520.2" width="36.0" height="18.5" rx="4" fill="#fff" fill-opacity="0.72"/>
<text x="218.3" y="533.7" font-size="12" fill="#666" text-anchor="middle">2%</text>
<rect x="276.3" y="510.4" width="36.0" height="18.5" rx="4" fill="#fff" fill-opacity="0.72"/>
<text x="294.3" y="523.9" font-size="12" fill="#666" text-anchor="middle">9%</text>
<rect x="352.7" y="522.1" width="36.0" height="18.5" rx="4" fill="#fff" fill-opacity="0.72"/>
<text x="370.7" y="535.6" font-size="12" fill="#666" text-anchor="middle">1%</text>
<rect x="428.7" y="518.5" width="36.0" height="18.5" rx="4" fill="#fff" fill-opacity="0.72"/>
<text x="446.7" y="532.0" font-size="12" fill="#666" text-anchor="middle">3%</text>
<text x="599.5" y="536.8" font-size="12" fill="#666" text-anchor="middle">0%</text>
<rect x="109.0" y="523.2" width="38.0" height="18.5" rx="4" fill="#fff" fill-opacity="0.72"/>
<text x="128.0" y="536.7" font-size="12" fill="#666" text-anchor="middle">0.0K</text>
<rect x="185.0" y="498.0" width="38.0" height="18.5" rx="4" fill="#fff" fill-opacity="0.72"/>
<text x="204.0" y="511.5" font-size="12" fill="#666" text-anchor="middle">0.8K</text>
<rect x="260.8" y="531.8" width="38.0" height="18.5" rx="4" fill="#fff" fill-opacity="0.72"/>
<text x="279.8" y="545.3" font-size="12" fill="#666" text-anchor="middle">0.0K</text>
<rect x="337.5" y="492.4" width="38.0" height="18.5" rx="4" fill="#fff" fill-opacity="0.72"/>
<text x="356.5" y="505.9" font-size="12" fill="#666" text-anchor="middle">2.1K</text>
<rect x="489.6" y="519.5" width="38.0" height="18.5" rx="4" fill="#fff" fill-opacity="0.72"/>
<text x="508.6" y="533.0" font-size="12" fill="#666" text-anchor="middle">0.1K</text>
<text x="34.7" y="481.8" font-size="12" fill="#777">50%</text>
<text x="40.8" y="552.7" font-size="12" fill="#777">0%</text>
<text x="669.8" y="432" font-size="12" fill="#777" text-anchor="end">4K</text>
<text x="669.8" y="492.5" font-size="12" fill="#777" text-anchor="end">2K</text>
<text x="669.8" y="553" font-size="12" fill="#777" text-anchor="end">0K</text>
<text x="127.5" y="572.6" font-size="12" fill="#666" text-anchor="middle">T6 Clear</text>
<text x="127.5" y="588.6" font-size="12" fill="#666" text-anchor="middle">System</text>
<text x="127.5" y="604.6" font-size="12" fill="#666" text-anchor="middle">Minor Servi...</text>
<text x="203.7" y="572.6" font-size="12" fill="#666" text-anchor="middle">Service</text>
<text x="203.7" y="588.6" font-size="12" fill="#666" text-anchor="middle">Checklist</text>
<text x="203.7" y="604.6" font-size="12" fill="#666" text-anchor="middle">(House/Tav...</text>
<text x="279.9" y="572.6" font-size="12" fill="#666" text-anchor="middle">Express</text>
<text x="279.9" y="588.6" font-size="12" fill="#666" text-anchor="middle">Service</text>
<text x="279.9" y="604.6" font-size="12" fill="#666" text-anchor="middle">Checklist</text>
<text x="356.1" y="572.6" font-size="12" fill="#666" text-anchor="middle">Service</text>
<text x="356.1" y="588.6" font-size="12" fill="#666" text-anchor="middle">Checklist</text>
<text x="432.3" y="572.6" font-size="12" fill="#666" text-anchor="middle">Evaporator</text>
<text x="432.3" y="588.6" font-size="12" fill="#666" text-anchor="middle">service</text>
<text x="432.3" y="604.6" font-size="12" fill="#666" text-anchor="middle">checklist</text>
<text x="508.5" y="572.6" font-size="12" fill="#666" text-anchor="middle">Site Arrival</text>
<text x="508.5" y="588.6" font-size="12" fill="#666" text-anchor="middle">Details</text>
<text x="584.7" y="572.6" font-size="12" fill="#666" text-anchor="middle">Service</text>
<text x="584.7" y="588.6" font-size="12" fill="#666" text-anchor="middle">Checklist</text>
<text x="584.7" y="604.6" font-size="12" fill="#666" text-anchor="middle">(Offline)</text>
<circle cx="186.3" cy="626" r="5" fill="#b3b3b3"/>
<text x="193.5" y="630" font-size="12" fill="#666">%Efficiency</text>
<circle cx="263" cy="626" r="5" fill="#cdbd2e"/>
<text x="270.5" y="630" font-size="12" fill="#666">%Exceptions</text>
<circle cx="347.2" cy="626" r="5" fill="#e6e6e6"/>
<text x="354.5" y="630" font-size="12" fill="#666">Locations</text>
<circle cx="416" cy="626" r="5" fill="#1b7a96"/>
<text x="423" y="630" font-size="12" fill="#666">Location Group(s)</text>
</svg>
<div class="a" style="left:29px;top:640px;width:647px;height:87px;background:#f7f7f7"></div>
<div class="a" style="left:36.2px;top:646.1px;width:213.7px;height:79.60000000000002px;background:#fff;border:1px solid #8f8f8f"></div>
<div class="a" style="left:37.2px;top:647.1px;width:211.7px;height:21.5px;background:#a3dccb"></div>
<div class="a kt" style="left:36.2px;width:213.7px;top:648.1px;color:#f8f6e0;font-weight:normal"><span style="display:inline-block;transform:scaleX(0.955)">CHECKLISTS SCHEDULED</span></div>
<div class="a kn" style="left:96.5px;top:677.6px;color:#9fdac8">3346</div>
<div class="a kp" style="left:199px;top:677.6px;color:#9fdac8">48%</div>
<div class="a" style="left:254.3px;top:646.4px;width:200.5px;height:79.0px;background:#fff;border:1px solid #8f8f8f"></div>
<div class="a" style="left:255.3px;top:647.4px;width:198.5px;height:21.5px;background:#0a9fe3"></div>
<div class="a kt" style="left:254.3px;width:200.5px;top:648.4px;color:#fff;font-weight:bold"><span style="display:inline-block;transform:scaleX(0.935)">TOTAL ANSWERS</span></div>
<div class="a kn" style="left:317px;top:677.9px;color:#0a9fe3">34K</div>
<div class="a" style="left:462.3px;top:646.4px;width:211.49999999999994px;height:79.89999999999998px;background:#fff;border:1px solid #8f8f8f"></div>
<div class="a" style="left:463.3px;top:647.4px;width:209.49999999999994px;height:21.5px;background:#cbbb2f"></div>
<div class="a kt" style="left:462.3px;width:211.49999999999994px;top:648.4px;color:#f8f6e0;font-weight:normal"><span style="display:inline-block;transform:scaleX(0.94)">TOTAL EXCEPTIONS</span></div>
<div class="a kn" style="left:521.5px;top:677.9px;color:#cbbb2f">1815</div>
<div class="a kp" style="left:633px;top:677.9px;color:#cbbb2f">1%</div>
</body></html>
